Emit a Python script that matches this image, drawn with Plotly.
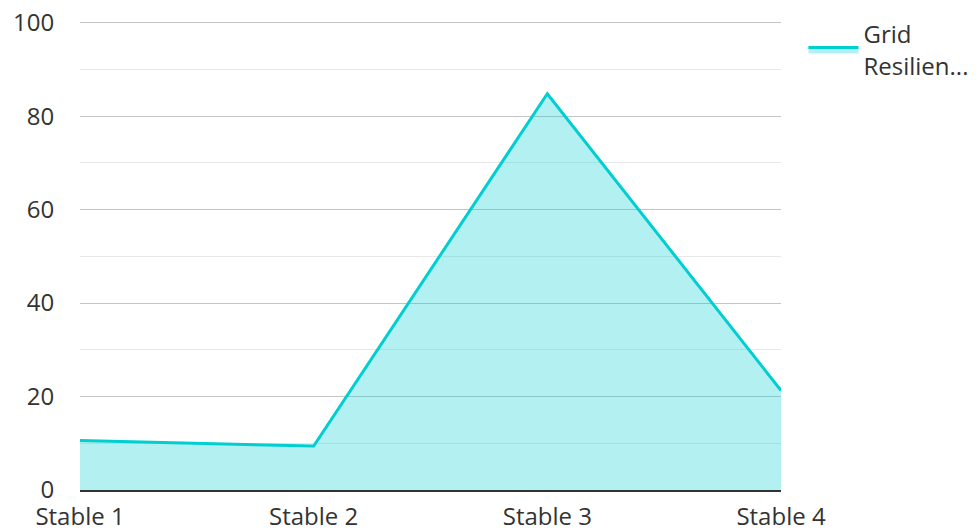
import plotly.graph_objects as go

categories = ["Stable 1", "Stable 2", "Stable 3", "Stable 4"]
values = [10.6, 9.4, 84.8, 21.3]
series_name = "Grid<br>Resilien..."
y_ticks = [0, 20, 40, 60, 80, 100]

x_pos = list(range(len(categories)))

fig = go.Figure()
fig.add_trace(go.Scatter(
    x=x_pos, y=values, name=series_name, mode="lines",
    line=dict(color="#00CED1", width=3),
    fill="tozeroy", fillcolor="rgba(0,206,209,0.3)",
))

fig.update_layout(
    width=978, height=531,
    margin=dict(l=80, r=197, t=18, b=41, autoexpand=False),
    paper_bgcolor="white", plot_bgcolor="white",
    font=dict(family="Open Sans, Noto Sans, sans-serif", size=24, color="#333333"),
    showlegend=True,
    legend=dict(x=1.032, y=1.013, xanchor="left", yanchor="top",
                font=dict(size=24, color="#333333"), itemwidth=50,
                bgcolor="rgba(0,0,0,0)"),
)
fig.update_xaxes(
    range=[0, 3], tickvals=x_pos, ticktext=categories,
    showgrid=False, zeroline=False, automargin=False,
    showline=True, linecolor="#333333", linewidth=2,
    ticks="outside", ticklen=4, tickcolor="rgba(0,0,0,0)",
)
fig.update_yaxes(
    range=[0, 101], tickvals=y_ticks, automargin=False,
    showgrid=True, gridcolor="#c4c4c4", gridwidth=1,
    minor=dict(dtick=10, tick0=0, showgrid=True, gridcolor="#e8e8e8", gridwidth=1),
    zeroline=False, showline=False,
    ticks="outside", ticklen=20, tickcolor="rgba(0,0,0,0)",
)
fig.write_html("out.html")
